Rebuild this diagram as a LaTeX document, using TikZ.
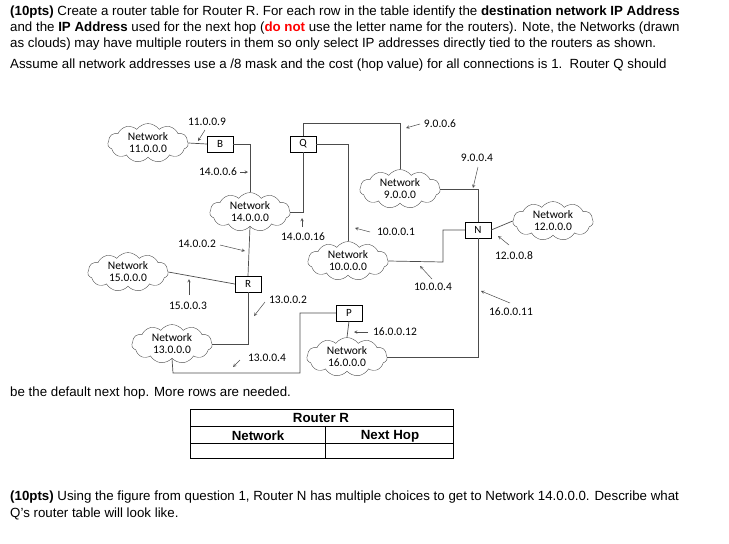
\documentclass[tikz,border=0pt]{standalone}
\usepackage{fontspec}
\setmainfont{Liberation Sans}
\newfontfamily\calf{Carlito}
\usetikzlibrary{shapes.symbols}
\begin{document}
\begin{tikzpicture}[x=1pt,y=-1pt,
 router/.style={draw,minimum width=26,minimum height=16,inner sep=0,font=\calf\fontsize{11}{12}\selectfont},
 net/.style={cloud,cloud puffs=11,cloud puff arc=110,aspect=2.8,draw=black!70,minimum width=76,minimum height=26,inner sep=0,align=center,font=\calf\fontsize{11.5}{12}\selectfont},
 lbl/.style={font=\calf\fontsize{11.5}{12}\selectfont,inner sep=0},
 ln/.style={draw=black!70,line width=0.7},
 ar/.style={->,>=stealth,black!70,line width=0.5},
 txt/.style={anchor=west,inner sep=0,font=\fontsize{13.3}{15}\selectfont}]
\useasboundingbox (0,0) rectangle (729,544);
% text
\node[txt] (t1) at (10,12) {\textbf{(10pts)} Create a router table for Router R. For each row in the table identify the \textbf{destination network IP Address}};
\node[txt] (t2) at (10,28) {and the \textbf{IP Address} used for the next hop (\textcolor{red}{\textbf{do not}} use the letter name for the routers). Note, the Networks (drawn};
\node[txt] (t3) at (10,44) {as clouds) may have multiple routers in them so only select IP addresses directly tied to the routers as shown.};
\node[txt] (t4) at (10,65) {Assume all network addresses use a /8 mask and the cost (hop value) for all connections is 1.\ \ Router Q should};
\node[txt] (t5) at (10,393) {be the default next hop. More rows are needed.};
\node[txt] (t6) at (10,497) {\textbf{(10pts)} Using the figure from question 1, Router N has multiple choices to get to Network 14.0.0.0. Describe what};
\node[txt] (t7) at (10,514) {Q's router table will look like.};
% table
\draw[line width=0.6] (190,409) rectangle (453,458);
\draw[line width=0.6] (190,426) -- (453,426) (190,443) -- (453,443) (325,426) -- (325,458);
\node[txt,anchor=center,font=\bfseries\fontsize{13.3}{15}\selectfont] (th) at (321,418) {Router R};
\node[txt,anchor=center,font=\bfseries\fontsize{13.3}{15}\selectfont] (tn) at (258,436) {Network};
\node[txt,anchor=center,font=\bfseries\fontsize{13.3}{15}\selectfont] (tnh) at (390,436) {Next Hop};
% routers
\node[router] (B) at (220,144) {B};
\node[router] (Q) at (303,144) {Q};
\node[router] (R) at (248,284) {R};
\node[router] (P) at (349,313) {P};
\node[router] (N) at (478,230) {N};
% networks
\node[net] (n11) at (148,143) {Network\\11.0.0.0};
\node[net] (n14) at (250,212) {Network\\14.0.0.0};
\node[net] (n9) at (400,189) {Network\\9.0.0.0};
\node[net] (n12) at (553,221) {Network\\12.0.0.0};
\node[net] (n10) at (348,261) {Network\\10.0.0.0};
\node[net] (n15) at (128,272) {Network\\15.0.0.0};
\node[net] (n13) at (172,344) {Network\\13.0.0.0};
\node[net] (n16) at (347,357) {Network\\16.0.0.0};
% links
\draw[ln] (n11.east) -- (B.west);
\draw[ln] (B.east) -| (n14.north);
\draw[ln] (n14.east) -| (Q.south);
\draw[ln] (Q.north) -- (303,123) -| (n9.north);
\draw[ln] (Q.east) -| (n10.north);
\draw[ln] (n9.east) -| (N.north);
\draw[ln] (n10.east) -- (443,262) |- (N.west);
\draw[ln] (N.east) -- (n12.west);
\draw[ln] (N.south) |- (n16.east);
\draw[ln] (P.south) -- (n16.north);
\draw[ln] (P.west) -- (300,313) |- (173,373) -- (n13.south);
\draw[ln] (R.south) |- (n13.east);
\draw[ln] (n14.south) -- (R.north);
\draw[ln] (n15.east) -- (R.west);
% labels
\node[lbl] (a1) at (207,122) {11.0.0.9}; \draw[ar] (205,130) -- (198,141);
\node[lbl] (a2) at (218,172) {14.0.0.6}; \draw[ar] (240,172) -- (248,172);
\node[lbl] (a3) at (197,244) {14.0.0.2}; \draw[ar] (220,245) -- (245,251);
\node[lbl] (a4) at (303,237) {14.0.0.16}; \draw[ar] (302,227) -- (302,218);
\node[lbl] (a5) at (188,306) {15.0.0.3}; \draw[ar] (189,295) -- (189,279);
\node[lbl] (a6) at (288,300) {13.0.0.2}; \draw[ar] (265,302) -- (254,316);
\node[lbl] (a7) at (267,358) {13.0.0.4}; \draw[ar] (240,360) -- (233,367);
\node[lbl] (a8) at (395,332) {16.0.0.12}; \draw[ar] (368,332) -- (354,332);
\node[lbl] (a9) at (396,232) {10.0.0.1}; \draw[ar] (370,232) -- (355,228);
\node[lbl] (a10) at (433,287) {10.0.0.4}; \draw[ar] (432,279) -- (420,266);
\node[lbl] (a11) at (440,124) {9.0.0.6}; \draw[ar] (420,124) -- (406,128);
\node[lbl] (a12) at (477,158) {9.0.0.4}; \draw[ar] (478,167) -- (473,188);
\node[lbl] (a13) at (514,256) {12.0.0.8}; \draw[ar] (509,245) -- (498,236);
\node[lbl] (a14) at (511,312) {16.0.0.11}; \draw[ar] (510,303) -- (481,291);
\end{tikzpicture}
\end{document}
